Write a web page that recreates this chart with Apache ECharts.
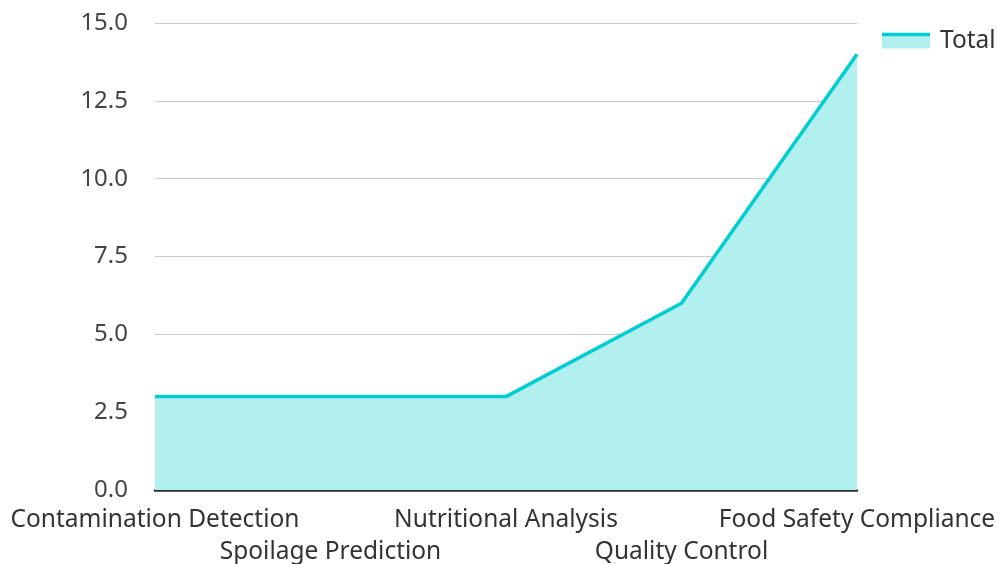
<!DOCTYPE html>
<html>
<head>
<meta charset="utf-8">
<script src="https://cdn.jsdelivr.net/npm/echarts@6/dist/echarts.min.js"></script>
<style>
  html, body { margin: 0; padding: 0; background: #fff; }
  #chart { width: 997px; height: 564px; }
</style>
</head>
<body>
<div id="chart"></div>
<script>
// Categories and the single "Total" series
const categories = [
  'Contamination Detection',
  'Spoilage Prediction',
  'Nutritional Analysis',
  'Quality Control',
  'Food Safety Compliance'
];
const totalValues = [3, 3, 3, 6, 14];
const seriesName = 'Total';

const lineColor = '#00CED1';
const areaColor = '#b2efef';
const fontFamily = '"Noto Sans", "Open Sans", sans-serif';

// legend swatch geometry (line on top of a filled block)
const legendLeft = 882;
const legendTop = 29;
const swatchW = 48;
const swatchH = 14;
const swatchTop = 33;

const chart = echarts.init(document.getElementById('chart'));
chart.setOption({
  animation: false,
  textStyle: { fontFamily: fontFamily },
  grid: {
    left: 155, right: 140, top: 23, bottom: 74,
    containLabel: false,
    outerBoundsMode: 'none'
  },
  legend: {
    data: [seriesName],
    left: legendLeft,
    top: legendTop,
    padding: 0,
    icon: 'rect',
    itemWidth: swatchW,
    itemHeight: swatchH,
    itemGap: 10,
    itemStyle: { color: areaColor, borderWidth: 0 },
    textStyle: { fontSize: 24.5, color: '#333', fontFamily: fontFamily, padding: [0, 0, 0, 5] }
  },
  xAxis: {
    type: 'category',
    data: categories,
    boundaryGap: false,
    axisLine: { lineStyle: { color: '#2b2b2b', width: 2.5 } },
    axisTick: { show: false },
    axisLabel: {
      interval: 0,
      hideOverlap: false,
      margin: 14,
      fontSize: 24.5,
      color: '#333',
      lineHeight: 32,
      verticalAlign: 'top',
      formatter: function (value, index) {
        return index % 2 === 1 ? '\n' + value : value;
      }
    }
  },
  yAxis: {
    type: 'value',
    min: 0,
    max: 15,
    interval: 2.5,
    axisLine: { show: false },
    axisTick: { show: false },
    splitLine: { lineStyle: { color: '#cccccc', width: 1 } },
    axisLabel: {
      margin: 27,
      fontSize: 24,
      color: '#444',
      formatter: function (v) { return v.toFixed(1); }
    }
  },
  series: [{
    name: seriesName,
    type: 'line',
    data: totalValues,
    symbol: 'none',
    lineStyle: { color: lineColor, width: 3.5 },
    itemStyle: { color: lineColor },
    areaStyle: { color: areaColor, opacity: 1 },
    z: 1
  }],
  graphic: [{
    type: 'line',
    silent: true,
    z: 100,
    shape: { x1: legendLeft, y1: swatchTop + 1.5, x2: legendLeft + swatchW, y2: swatchTop + 1.5 },
    style: { stroke: lineColor, lineWidth: 3.5 }
  }]
});
</script>
</body>
</html>
